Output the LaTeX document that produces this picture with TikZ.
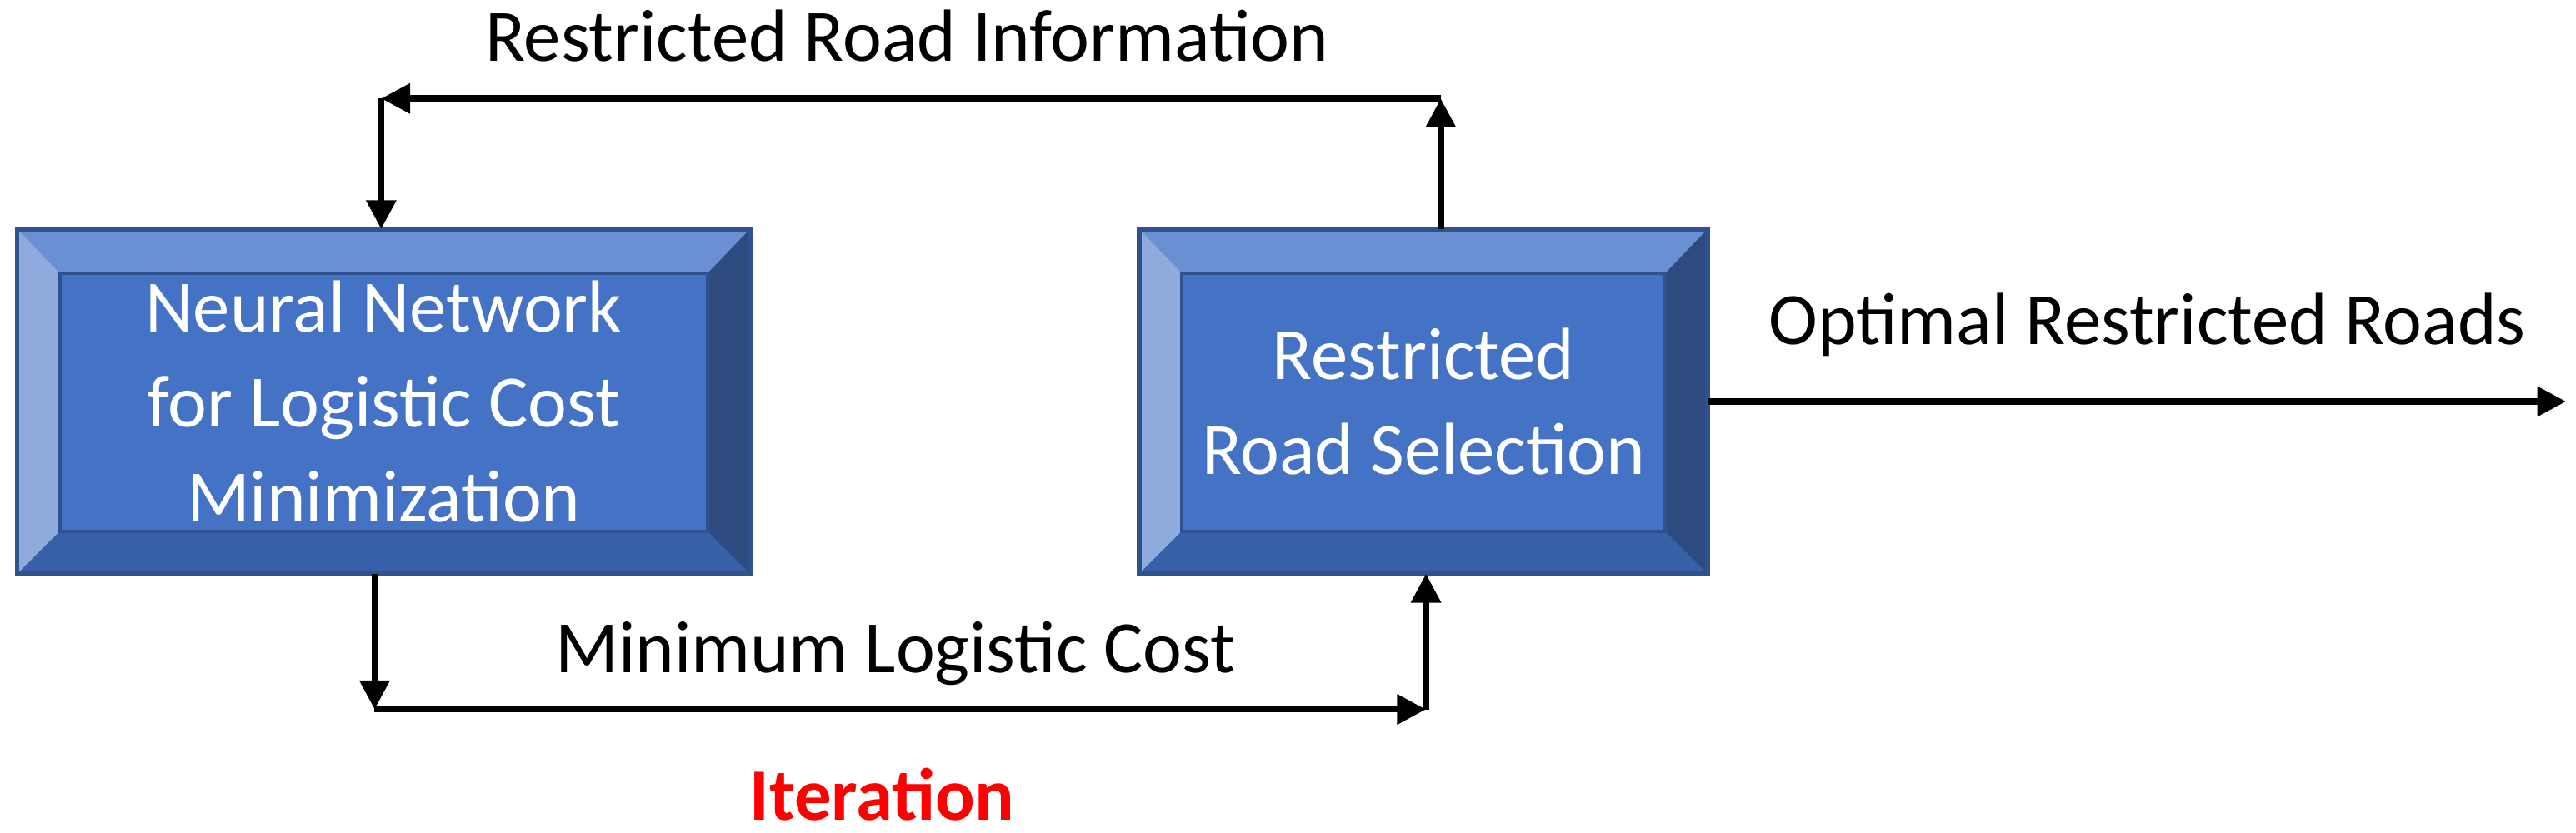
\documentclass[tikz,border=0pt]{standalone}
\usepackage{fontspec}
\setmainfont{Carlito}
\usetikzlibrary{calc,arrows.meta}
\definecolor{boxmain}{HTML}{4472C4}
\definecolor{boxtop}{HTML}{6A8FD2}
\definecolor{boxleft}{HTML}{8FAADC}
\definecolor{boxbot}{HTML}{3760A8}
\definecolor{boxright}{HTML}{2E4B80}
\definecolor{boxedge}{HTML}{2F528F}
\begin{document}
\begin{tikzpicture}[x=0.01cm,y=-0.01cm,
    bevel/.style={draw=boxedge,line width=0.8pt,fill=boxmain,rectangle,inner sep=0pt},
    arr/.style={line width=1.1pt,-{Triangle[length=5pt,width=5pt]}},
    lbl/.style={font=\fontsize{12.8}{15}\selectfont}]
  \useasboundingbox (0,0) rectangle (1568,507);
  % bevelled boxes
  \newcommand\bevelbox[2]{%
    \fill[boxtop] (#1.north west) -- (#1.north east) -- ($(#1.north east)+(-26,27)$) -- ($(#1.north west)+(26,27)$) -- cycle;
    \fill[boxleft] (#1.north west) -- ($(#1.north west)+(26,27)$) -- ($(#1.south west)+(26,-26)$) -- (#1.south west) -- cycle;
    \fill[boxbot] (#1.south west) -- ($(#1.south west)+(26,-26)$) -- ($(#1.south east)+(-26,-26)$) -- (#1.south east) -- cycle;
    \fill[boxright] (#1.north east) -- ($(#1.north east)+(-26,27)$) -- ($(#1.south east)+(-26,-26)$) -- (#1.south east) -- cycle;
    \draw[boxedge,line width=0.6pt] ($(#1.north west)+(26,27)$) rectangle ($(#1.south east)+(-26,-26)$);
    \draw[boxedge,line width=0.8pt] (#1.north west) rectangle (#1.south east);
    \node[font=\fontsize{12.8}{16.5}\selectfont\color{white},align=center] (#1t) at (#1) {#2};}
  \node[bevel,minimum width=4.43cm,minimum height=2.07cm] (nn) at (233.5,244.5) {};
  \bevelbox{nn}{Neural Network\\for Logistic Cost\\Minimization}
  \node[bevel,minimum width=3.43cm,minimum height=2.07cm] (rs) at (866.5,244.5) {};
  \bevelbox{rs}{Restricted\\Road Selection}
  % feedback loop
  \coordinate (tr) at (877,60);
  \coordinate (tl) at (232,60);
  \coordinate (bl) at (228,432);
  \coordinate (br) at (868,432);
  \draw[arr] (rs.north -| tr) -- (tr);
  \draw[arr] (tr) -- (tl);
  \draw[arr] (tl) -- (nn.north -| tl);
  \draw[arr] (nn.south -| bl) -- (bl);
  \draw[arr] (bl) -- (br);
  \draw[arr] (br) -- (rs.south -| br);
  \coordinate (out) at (1562,244.5);
  \draw[arr] (rs.east) -- (out);
  % labels
  \node[lbl] (l1) at (552,22) {Restricted Road Information};
  \node[lbl] (l2) at (545,398) {Minimum Logistic Cost};
  \node[lbl] (l3) at (1307,198) {Optimal Restricted Roads};
  \node[lbl,font=\fontsize{12.8}{15}\selectfont\bfseries,text=red] (l4) at (537,484) {Iteration};
\end{tikzpicture}
\end{document}
